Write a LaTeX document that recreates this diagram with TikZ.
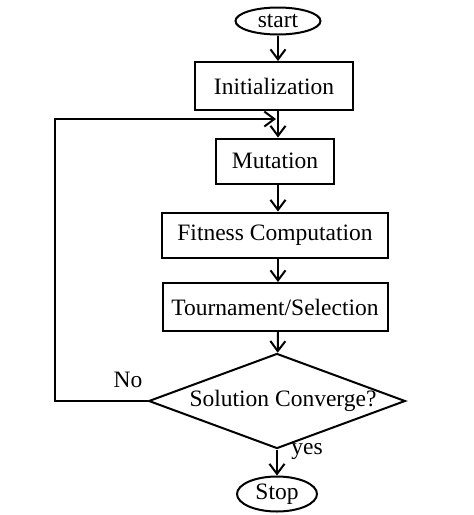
\documentclass[tikz,border=0pt]{standalone}
\usepackage{fontspec}
\setmainfont{Liberation Serif}
\usetikzlibrary{shapes.geometric, arrows.meta}
\tikzset{>={Straight Barb[length=10pt,width=15pt,line width=2pt]}}
\tikzset{box/.style={draw, line width=2pt, inner sep=0pt},
oval/.style={box, ellipse},
flow/.style={->, line width=2pt}}

\begin{document}
\begin{tikzpicture}[x=1pt, y=-1pt, font=\fontsize{23.5}{28}\selectfont]
\useasboundingbox (0,0) rectangle (474,515);
\node[oval, minimum width=85pt, minimum height=27pt] (S) at (278,21) {start};
\node[box, minimum width=158pt, minimum height=48pt] (I) at (274,86) {Initialization};
\node[box, minimum width=118pt, minimum height=45pt] (M) at (275,161) {Mutation};
\node[box, minimum width=226pt, minimum height=45pt] (F) at (275,235) {Fitness Computation};
\node[box, minimum width=225pt, minimum height=48pt] (T) at (275,307) {Tournament/Selection};
\node[box, diamond, aspect=2.7, minimum width=250pt, minimum height=92pt] (C) at (277,401) {\hspace*{12pt}Solution Converge?};
\node[oval, minimum width=80pt, minimum height=35pt] (Z) at (277,494) {Stop};
\node (N) at (128,380) {No};
\node (Y) at (307,451) {yes};
\coordinate (L) at (55,119);
\coordinate (J) at (276,119);
\draw[flow] (S) -- (S |- I.north);
\draw[flow] (I.south -| S) -- (S |- M.north);
\draw[flow] (M.south -| S) -- (S |- F.north);
\draw[flow] (F.south -| S) -- (S |- T.north);
\draw[flow] (T.south -| S) -- (C);
\draw[flow] (C) -- (Z);
\draw[flow] (C.west) -| (L) -- (J);
\end{tikzpicture}
\end{document}
